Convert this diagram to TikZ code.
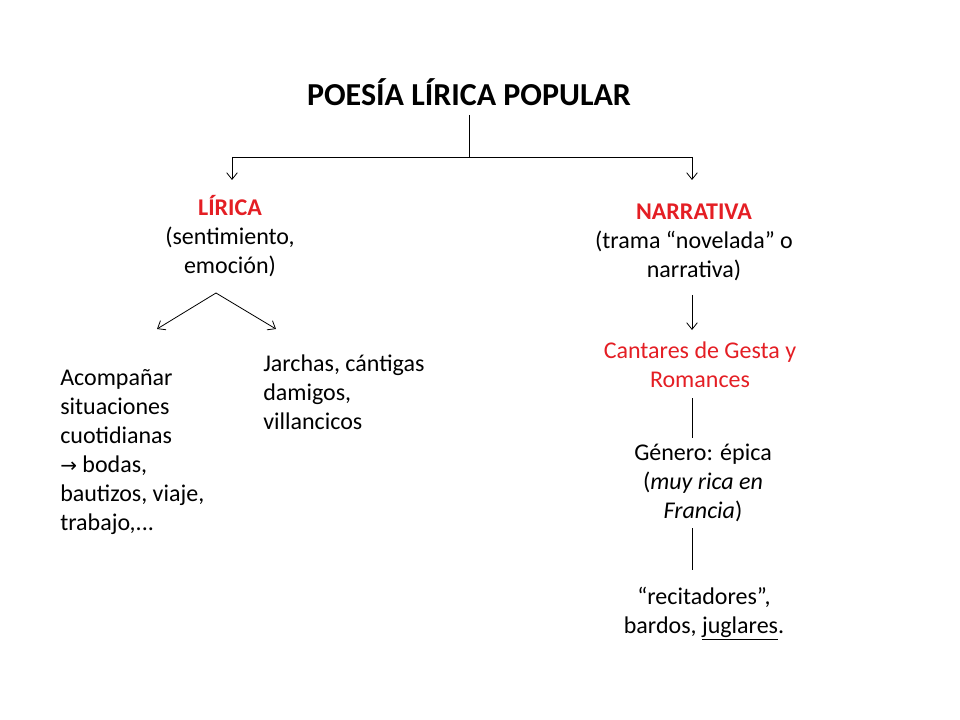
\documentclass[tikz,border=0pt]{standalone}
\usepackage{fontspec}
\setmainfont{Carlito}
\newfontfamily\symf{DejaVu Sans}
\usetikzlibrary{arrows.meta}
\definecolor{tred}{RGB}{228,30,36}
\begin{document}
\begin{tikzpicture}[x=0.75pt,y=-0.75pt,
  txt/.style={inner sep=0pt,font=\fontsize{18}{21.75}\selectfont},
  ln/.style={line width=0.6pt},
  arr/.style={ln,-{Straight Barb[length=5pt,width=8pt,line width=0.6pt]}}]
\useasboundingbox (0,0) rectangle (960,720);
\node[inner sep=0pt,font=\fontsize{24}{28}\selectfont\bfseries] (title) at (469,92) {POESÍA LÍRICA POPULAR};
\coordinate (t0) at (469,115);
\coordinate (t1) at (469,157);
\coordinate (l0) at (232,157);
\coordinate (r0) at (692,157);
\coordinate (l1) at (232,180);
\coordinate (r1) at (692,180);
\draw[ln] (t0) -- (t1) (l0) -- (r0);
\draw[arr] (l0) -- (l1);
\draw[arr] (r0) -- (r1);
\node[txt,align=center] (lir) at (230,236) {\textcolor{tred}{\bfseries LÍRICA}\\(sentimiento,\\emoción)};
\coordinate (apex) at (216,293);
\coordinate (al) at (157,329);
\coordinate (ar) at (276,329);
\draw[arr] (apex) -- (al);
\draw[arr] (apex) -- (ar);
\node[txt,align=left,anchor=north west] (acomp) at (60,369) {Acompañar\\situaciones\\cuotidianas\\{\symf\fontsize{15}{18}\selectfont →} bodas,\\bautizos, viaje,\\trabajo,...};
\node[txt,align=left,anchor=north west] (jar) at (263,355) {Jarchas, cántigas\\damigos,\\villancicos};
\node[txt,align=center] (nar) at (694,242) {\textcolor{tred}{\bfseries NARRATIVA}\\(trama “novelada” o\\narrativa)};
\coordinate (n0) at (692,295);
\coordinate (n1) at (692,330);
\draw[arr] (n0) -- (n1);
\node[txt,align=center,text=tred] (cant) at (700,365) {Cantares de Gesta y\\Romances};
\coordinate (c0) at (692,398);
\coordinate (c1) at (692,438);
\draw[ln] (c0) -- (c1);
\node[txt,align=center] (gen) at (703,483) {Género: épica\\(\textit{muy rica en}\\\textit{Francia})};
\coordinate (g0) at (692,528);
\coordinate (g1) at (692,570);
\draw[ln] (g0) -- (g1);
\node[txt,align=center] (rec) at (704,614) {“recitadores”,\\bardos, \underline{juglares}.};
\end{tikzpicture}
\end{document}
